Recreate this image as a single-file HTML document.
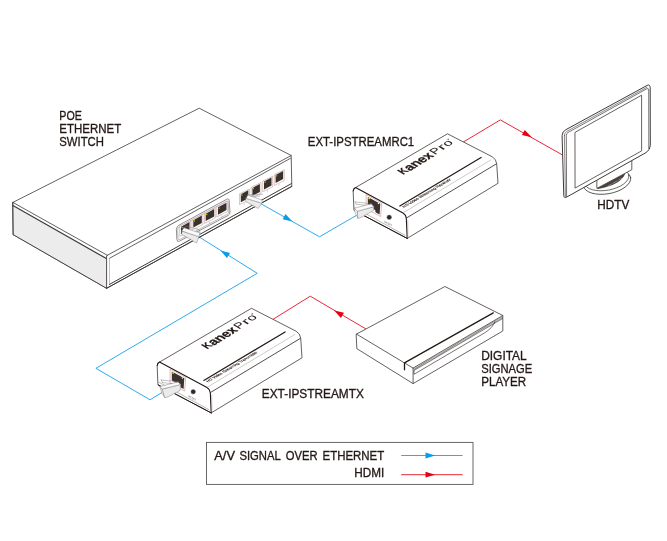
<!DOCTYPE html>
<html>
<head>
<meta charset="utf-8">
<title>KanexPro IP Stream connection diagram</title>
<style>
html,body{margin:0;padding:0;background:#fff;}
body{width:667px;height:541px;overflow:hidden;font-family:"Liberation Sans",sans-serif;}
svg{display:block;will-change:transform;}
</style>
</head>
<body>
<svg width="667" height="541" viewBox="0 0 667 541">
<rect x="0" y="0" width="667" height="541" fill="#ffffff"/>
<g fill="none" stroke-width="0.85" stroke-linejoin="miter">
<path d="M260,203.2 L319.5,236.8 L357.4,214.8" stroke="#0a9ce8"/>
<path d="M165.6,390.2 L150.1,399.8 L95.9,368.3 L257.2,273.3 L197,235.6" stroke="#0a9ce8"/>
<path d="M460,144 L500.3,119.9 L564,155.8" stroke="#e60012"/>
<path d="M366,329 L310.3,296.2 L270,321.2" stroke="#e60012"/>
</g>
<polygon points="292.4,221.4 282.6,219.3 285.5,214.1" fill="#0a9ce8"/>
<polygon points="220.4,250.4 230.1,253.0 226.9,258.0" fill="#0a9ce8"/>
<polygon points="531.7,137.2 521.9,135.1 524.8,129.9" fill="#e60012"/>
<polygon points="334.2,310.4 344.0,312.7 340.9,317.9" fill="#e60012"/>
<g id="switch" stroke-linejoin="round" stroke-linecap="round">
<polygon points="12.9,202.4 199.2,108.2 291.2,155.5 291.8,186.4 106.6,288.3 13.3,234.7" fill="#fff" stroke="#3e3a39" stroke-width="0.8"/>
<polygon points="13.1,205.8 106.4,258.6 106.6,288.3 13.3,234.7" fill="#ececec" stroke="none"/>
<line x1="12.9" y1="202.4" x2="107.3" y2="255.3" stroke="#3e3a39" stroke-width="0.8"/>
<line x1="12.9" y1="205.6" x2="105.9" y2="258.3" stroke="#3e3a39" stroke-width="1.2"/>
<line x1="107.3" y1="255.3" x2="291.2" y2="155.5" stroke="#3e3a39" stroke-width="0.8"/>
<line x1="109.5" y1="258.3" x2="290.5" y2="158.3" stroke="#3e3a39" stroke-width="0.8"/>
<line x1="106.6" y1="256.0" x2="106.6" y2="288.3" stroke="#3e3a39" stroke-width="0.9"/>
<line x1="109.5" y1="258.6" x2="109.5" y2="284.7" stroke="#9a9a9a" stroke-width="0.6"/>
<line x1="109.5" y1="284.4" x2="291.4" y2="183.6" stroke="#3e3a39" stroke-width="1.0"/>
<line x1="106.6" y1="288.3" x2="291.8" y2="186.4" stroke="#3e3a39" stroke-width="1.0"/>
<line x1="13.3" y1="234.7" x2="106.6" y2="288.3" stroke="#3e3a39" stroke-width="0.9"/>
<line x1="12.9" y1="202.4" x2="13.3" y2="234.7" stroke="#3e3a39" stroke-width="0.9"/>
<path d="M176.4,229.4 Q176.4,226.6 178.8,225.3 L226.6,199.3 Q229.1,198 229.2,200.8 L230,212 Q230.1,214.4 228,215.5 L179.4,241.2 Q177,242.4 176.9,240 Z" fill="#fff" stroke="#4a4645" stroke-width="0.6"/>
<path d="M177.7,229.9 Q177.7,227.7 179.5,226.7 L226.2,201.2 Q228,200.3 228.1,202 L228.8,211.6 Q228.9,213.4 227.3,214.3 L180,239.4 Q178.2,240.3 178.1,238.6 Z" fill="none" stroke="#5a5655" stroke-width="0.4"/>
<polygon points="180.1,226.0 190.6,220.7 190.6,230.9 180.1,236.2" fill="#fff" stroke="#bd9292" stroke-width="0.55"/><polygon points="181.0,226.7 189.5,222.0 189.5,229.4 181.0,234.0" fill="#38312e"/><circle cx="182.1" cy="227.4" r="0.65" fill="#e6cf00"/><line x1="184.8" y1="235.0" x2="184.8" y2="236.2" stroke="#999" stroke-width="0.4"/>
<polygon points="192.4,219.6 202.9,214.2 202.9,224.4 192.4,229.8" fill="#fff" stroke="#bd9292" stroke-width="0.55"/><polygon points="193.3,220.2 201.8,215.6 201.8,222.9 193.3,227.6" fill="#38312e"/><circle cx="194.4" cy="221.0" r="0.65" fill="#e6cf00"/><line x1="197.2" y1="228.6" x2="197.2" y2="229.8" stroke="#999" stroke-width="0.4"/>
<polygon points="204.8,213.1 215.3,207.8 215.3,218.0 204.8,223.3" fill="#fff" stroke="#bd9292" stroke-width="0.55"/><polygon points="205.7,213.8 214.2,209.1 214.2,216.5 205.7,221.1" fill="#38312e"/><circle cx="206.8" cy="214.5" r="0.65" fill="#e6cf00"/><line x1="209.5" y1="222.1" x2="209.5" y2="223.3" stroke="#999" stroke-width="0.4"/>
<polygon points="217.1,206.7 227.6,201.3 227.6,211.5 217.1,216.8" fill="#fff" stroke="#bd9292" stroke-width="0.55"/><polygon points="218.0,207.3 226.5,202.7 226.5,210.0 218.0,214.7" fill="#38312e"/><circle cx="219.1" cy="208.1" r="0.65" fill="#e6cf00"/><line x1="221.9" y1="215.7" x2="221.9" y2="216.9" stroke="#999" stroke-width="0.4"/>
<polygon points="239.9,193.6 249.4,189.0 249.4,199.8 239.9,204.4" fill="#fff" stroke="#bd9292" stroke-width="0.55"/><polygon points="240.8,194.3 248.3,190.3 248.3,198.3 240.8,202.2" fill="#38312e"/><circle cx="241.9" cy="195.0" r="0.65" fill="#e6cf00"/><line x1="244.2" y1="203.5" x2="244.2" y2="204.7" stroke="#999" stroke-width="0.4"/>
<polygon points="251.5,187.2 261.0,182.6 261.0,193.4 251.5,198.0" fill="#fff" stroke="#bd9292" stroke-width="0.55"/><polygon points="252.4,187.9 259.9,183.9 259.9,191.9 252.4,195.8" fill="#38312e"/><circle cx="253.5" cy="188.6" r="0.65" fill="#e6cf00"/><line x1="255.8" y1="197.1" x2="255.8" y2="198.3" stroke="#999" stroke-width="0.4"/>
<polygon points="263.1,180.8 272.6,176.2 272.6,187.0 263.1,191.6" fill="#fff" stroke="#bd9292" stroke-width="0.55"/><polygon points="264.0,181.5 271.5,177.5 271.5,185.5 264.0,189.4" fill="#38312e"/><circle cx="265.1" cy="182.2" r="0.65" fill="#e6cf00"/><line x1="267.4" y1="190.7" x2="267.4" y2="191.9" stroke="#999" stroke-width="0.4"/>
<polygon points="274.7,174.4 284.2,169.8 284.2,180.6 274.7,185.2" fill="#fff" stroke="#bd9292" stroke-width="0.55"/><polygon points="275.6,175.1 283.1,171.1 283.1,179.1 275.6,183.0" fill="#38312e"/><circle cx="276.7" cy="175.8" r="0.65" fill="#e6cf00"/><line x1="279.0" y1="184.3" x2="279.0" y2="185.5" stroke="#999" stroke-width="0.4"/>
<g stroke-linejoin="round" stroke-linecap="round"><polygon points="182.0,231.1 198.9,236.7 196.6,243.1 182.0,234.5" fill="#ebebeb" stroke="#858585" stroke-width="0.5"/><polygon points="183.9,227.7 200.0,233.0 198.9,236.7 182.0,231.1" fill="#fafafa" stroke="#858585" stroke-width="0.5"/><path d="M183.9,227.7 L186.2,226 L199.4,229.8 L200,233" fill="none" stroke="#858585" stroke-width="0.5"/></g>
<g stroke-linejoin="round" stroke-linecap="round"><polygon points="246.1,198.4 261.9,203.2 258.1,208.5 246.1,201.7" fill="#ebebeb" stroke="#858585" stroke-width="0.5"/><polygon points="248.0,195.0 262.2,200.2 261.9,203.2 246.1,198.4" fill="#fafafa" stroke="#858585" stroke-width="0.5"/><path d="M247.6,194.8 L262.6,194.3 M250.5,196 L260,196.2" fill="none" stroke="#858585" stroke-width="0.5"/></g>
</g>
<g id="rx" stroke-linejoin="round" stroke-linecap="round"><path d="M353.2,191 Q353.3,188.6 355.5,187.6 L447.5,133.8 L492.1,156.7 Q496.3,159 496.7,163.8 L498,183.3 L407.2,238.4 L354.3,210.5 Z" fill="#fff" stroke="#3e3a39" stroke-width="0.8"/><path d="M353.2,191 Q353.3,188.6 355.5,187.6 L403,213 Q406,214.8 406.3,218.1 L407.2,238.4" fill="none" stroke="#231815" stroke-width="1.1"/><line x1="406.3" y1="218.1" x2="496.5" y2="163.8" stroke="#3e3a39" stroke-width="0.9"/><line x1="403.5" y1="212.6" x2="490.8" y2="160.0" stroke="#9a9a9a" stroke-width="0.5"/><line x1="407.8" y1="220.5" x2="407.9" y2="237.6" stroke="#9a9a9a" stroke-width="0.5"/><line x1="399.8" y1="205.9" x2="481.1" y2="157.4" stroke="#231815" stroke-width="1.2"/><line x1="355.0" y1="207.8" x2="404.9" y2="235.2" stroke="#8a8a8a" stroke-width="0.6"/><line x1="354.3" y1="210.5" x2="407.2" y2="238.4" stroke="#231815" stroke-width="1.0"/><polygon points="366.4,194.7 381.7,203.0 380.6,216.5 366.4,209.0" fill="#fff" stroke="#b86a6a" stroke-width="0.45"/><polygon points="367.8,196.9 380.3,203.7 379.6,214.4 375.5,212.3 375.2,210.0 367.8,206.0" fill="#3a3330"/><circle cx="369.2" cy="198.4" r="0.9" fill="#f2e000"/><circle cx="378.4" cy="203.5" r="0.7" fill="#fff"/><circle cx="389.2" cy="217.3" r="2.3" fill="#2b2523" stroke="#777" stroke-width="0.5"/><text transform="matrix(0.88,0.47,0,1,384.6,222.6)" font-family="Liberation Sans, sans-serif" font-size="2.6" fill="#444" textLength="8.5" lengthAdjust="spacingAndGlyphs">RESET</text><g transform="matrix(0.848,-0.530,0.866,0.500,403.4,174.3)"><text x="-0.6" y="0.4" font-family="Liberation Sans, sans-serif" font-weight="bold" font-size="11.2" fill="#231815" stroke="#231815" stroke-width="0.22" textLength="6.8" lengthAdjust="spacingAndGlyphs">K</text><text x="6.6" y="1.1" font-family="Liberation Sans, sans-serif" font-weight="bold" font-size="13.2" fill="#231815" stroke="#231815" stroke-width="0.3" textLength="29" lengthAdjust="spacingAndGlyphs">anex</text><text x="36.9" y="0.3" font-family="Liberation Sans, sans-serif" font-size="11.4" fill="#231815" stroke="#231815" stroke-width="0.05" textLength="8.4" lengthAdjust="spacingAndGlyphs">P</text><text x="45.7" y="0.3" font-family="Liberation Sans, sans-serif" font-size="11.4" fill="#231815" stroke="#231815" stroke-width="0.05" textLength="5.6" lengthAdjust="spacingAndGlyphs">r</text><text x="51.7" y="0.3" font-family="Liberation Sans, sans-serif" font-size="11.4" fill="#231815" stroke="#231815" stroke-width="0.05" textLength="7.6" lengthAdjust="spacingAndGlyphs">o</text><circle cx="59.4" cy="-6.6" r="0.6" fill="none" stroke="#231815" stroke-width="0.3"/></g><text transform="matrix(0.859,-0.512,0.866,0.500,404.1,207.9)" font-family="Liberation Sans, sans-serif" font-size="3.9" fill="#231815" stroke="#231815" stroke-width="0.12" textLength="55" lengthAdjust="spacingAndGlyphs">HD Video Streaming Receiver</text></g>
<g id="tx" transform="translate(-196,174.5)" stroke-linejoin="round" stroke-linecap="round"><path d="M353.2,191 Q353.3,188.6 355.5,187.6 L447.5,133.8 L492.1,156.7 Q496.3,159 496.7,163.8 L498,183.3 L407.2,238.4 L354.3,210.5 Z" fill="#fff" stroke="#3e3a39" stroke-width="0.8"/><path d="M353.2,191 Q353.3,188.6 355.5,187.6 L403,213 Q406,214.8 406.3,218.1 L407.2,238.4" fill="none" stroke="#231815" stroke-width="1.1"/><line x1="406.3" y1="218.1" x2="496.5" y2="163.8" stroke="#3e3a39" stroke-width="0.9"/><line x1="403.5" y1="212.6" x2="490.8" y2="160.0" stroke="#9a9a9a" stroke-width="0.5"/><line x1="407.8" y1="220.5" x2="407.9" y2="237.6" stroke="#9a9a9a" stroke-width="0.5"/><line x1="399.8" y1="205.9" x2="481.1" y2="157.4" stroke="#231815" stroke-width="1.2"/><line x1="355.0" y1="207.8" x2="404.9" y2="235.2" stroke="#8a8a8a" stroke-width="0.6"/><line x1="354.3" y1="210.5" x2="407.2" y2="238.4" stroke="#231815" stroke-width="1.0"/><polygon points="366.4,194.7 381.7,203.0 380.6,216.5 366.4,209.0" fill="#fff" stroke="#b86a6a" stroke-width="0.45"/><polygon points="367.8,196.9 380.3,203.7 379.6,214.4 375.5,212.3 375.2,210.0 367.8,206.0" fill="#3a3330"/><circle cx="369.2" cy="198.4" r="0.9" fill="#f2e000"/><circle cx="378.4" cy="203.5" r="0.7" fill="#fff"/><circle cx="389.2" cy="217.3" r="2.3" fill="#2b2523" stroke="#777" stroke-width="0.5"/><text transform="matrix(0.88,0.47,0,1,384.6,222.6)" font-family="Liberation Sans, sans-serif" font-size="2.6" fill="#444" textLength="8.5" lengthAdjust="spacingAndGlyphs">RESET</text><g transform="matrix(0.848,-0.530,0.866,0.500,403.4,174.3)"><text x="-0.6" y="0.4" font-family="Liberation Sans, sans-serif" font-weight="bold" font-size="11.2" fill="#231815" stroke="#231815" stroke-width="0.22" textLength="6.8" lengthAdjust="spacingAndGlyphs">K</text><text x="6.6" y="1.1" font-family="Liberation Sans, sans-serif" font-weight="bold" font-size="13.2" fill="#231815" stroke="#231815" stroke-width="0.3" textLength="29" lengthAdjust="spacingAndGlyphs">anex</text><text x="36.9" y="0.3" font-family="Liberation Sans, sans-serif" font-size="11.4" fill="#231815" stroke="#231815" stroke-width="0.05" textLength="8.4" lengthAdjust="spacingAndGlyphs">P</text><text x="45.7" y="0.3" font-family="Liberation Sans, sans-serif" font-size="11.4" fill="#231815" stroke="#231815" stroke-width="0.05" textLength="5.6" lengthAdjust="spacingAndGlyphs">r</text><text x="51.7" y="0.3" font-family="Liberation Sans, sans-serif" font-size="11.4" fill="#231815" stroke="#231815" stroke-width="0.05" textLength="7.6" lengthAdjust="spacingAndGlyphs">o</text><circle cx="59.4" cy="-6.6" r="0.6" fill="none" stroke="#231815" stroke-width="0.3"/></g><text transform="matrix(0.859,-0.512,0.866,0.500,404.1,207.9)" font-family="Liberation Sans, sans-serif" font-size="3.9" fill="#231815" stroke="#231815" stroke-width="0.12" textLength="58" lengthAdjust="spacingAndGlyphs">HD Video Streaming Transmitter</text></g>
<g stroke-linejoin="round" stroke-linecap="round"><polygon points="354.7,208.2 357.7,211.2 358.1,218.4 356.2,215.0 354.4,210.5" fill="#f4f4f4" stroke="#858585" stroke-width="0.5"/><polygon points="357.7,211.2 373.9,206.7 373.5,210.5 361.5,217.2 358.1,218.4" fill="#ebebeb" stroke="#858585" stroke-width="0.5"/><polygon points="354.7,208.2 371.2,203.7 373.9,206.7 357.7,211.2" fill="#fafafa" stroke="#858585" stroke-width="0.5"/><path d="M355.1,201.9 L365.2,203 L370.5,204.5 M356.2,204.1 L364.9,205.2 M355.1,201.9 L356.2,204.1" fill="none" stroke="#858585" stroke-width="0.5"/></g>
<g stroke-linejoin="round" stroke-linecap="round"><polygon points="160.1,386.4 162.4,389.0 165.0,397.6 162.0,393.5 160.1,387.5" fill="#f4f4f4" stroke="#858585" stroke-width="0.5"/><polygon points="162.4,389.0 180.7,384.5 180.0,390.5 168.0,396.9 165.0,397.6" fill="#ebebeb" stroke="#858585" stroke-width="0.5"/><polygon points="160.1,386.4 178.1,381.9 180.7,384.5 162.4,389.0" fill="#fafafa" stroke="#858585" stroke-width="0.5"/><path d="M161.2,380 L171.7,381.1 L178.1,381.9 M162.4,382.6 L172.5,383.7 M161.2,380 L162.4,382.6" fill="none" stroke="#858585" stroke-width="0.5"/></g>
<g id="tv" stroke-linejoin="round" stroke-linecap="round">
<g transform="rotate(-10 607 181.5)">
<ellipse cx="607" cy="181.8" rx="24" ry="12" fill="#fff" stroke="#3e3a39" stroke-width="0.8"/>
<ellipse cx="607" cy="179.2" rx="22.6" ry="11" fill="#fff" stroke="#3e3a39" stroke-width="0.7"/>
</g>
<path d="M598,187.9 L625,173.2 Q622.6,180.4 612,184.8 Q604.5,187.8 598,188.6 Z" fill="#4a4340" stroke="#231815" stroke-width="0.6"/>
<path d="M602,186.6 L624,174.2" fill="none" stroke="#fff" stroke-width="0.9" stroke-dasharray="0.5 0.9" stroke-linecap="butt" transform="translate(1.2,2.2)"/>
<polygon points="597.2,176.0 631.8,156.0 631.8,169.7 597.2,188.2" fill="#fff" stroke="#3e3a39" stroke-width="0.8"/>
<path d="M562.1,135.1 Q562.2,131.6 566,129.6 L647.3,85.3 Q650,84 650.2,87.9 L650.3,145.4 Q650.2,150 646,152.6 L566.5,197.2 Q563.9,198.6 563.8,195.6 Z" fill="#fff" stroke="#3e3a39" stroke-width="1.0"/>
<path d="M564.4,135.6 Q564.5,132.8 566.8,131.4 L647,87.2" fill="none" stroke="#3e3a39" stroke-width="0.6"/>
<path d="M564.4,135.6 L565.4,196.6" fill="none" stroke="#3e3a39" stroke-width="0.6"/>
<path d="M566.6,196.6 L566.3,135.5 Q566.4,133.4 568,132.5 L646.6,88.9 Q648.6,87.9 648.7,90 L648.8,148.6" fill="none" stroke="#3e3a39" stroke-width="0.7"/>
<polygon points="575.3,132.2 641.6,95.2 641.6,150.9 575.4,187.9" fill="#fff" stroke="#3e3a39" stroke-width="0.8"/>
</g>
<g id="player" stroke-linejoin="round" stroke-linecap="round">
<polygon points="356.5,334.1 444.9,286.5 502.8,315.5 502.8,331.0 413.1,383.6 357.2,348.9" fill="#fff" stroke="#3e3a39" stroke-width="0.8"/>
<line x1="356.5" y1="334.1" x2="413.1" y2="368.1" stroke="#3e3a39" stroke-width="0.8"/>
<line x1="413.1" y1="368.1" x2="502.8" y2="315.5" stroke="#3e3a39" stroke-width="0.8"/>
<line x1="413.1" y1="368.1" x2="413.1" y2="383.6" stroke="#3e3a39" stroke-width="0.8"/>
<line x1="414.0" y1="369.2" x2="502.6" y2="317.1" stroke="#6a6462" stroke-width="1.8" stroke-dasharray="0.7 0.5" stroke-linecap="butt"/>
<line x1="414.0" y1="370.5" x2="502.6" y2="318.6" stroke="#3e3a39" stroke-width="0.6"/>
<path d="M414,370.7 L414,374.3 L484.7,332.8 Q492.5,328.2 495,321.6" fill="none" stroke="#3e3a39" stroke-width="0.7"/>
<path d="M404.5,369.8 L404.5,362.9 L493.3,312.9" fill="none" stroke="#231815" stroke-width="1.3"/>
</g>
<text x="59.3" y="119.8" font-family="Liberation Sans, sans-serif" font-size="11.9" fill="#231815" stroke="#231815" stroke-width="0.3" textLength="22.5" lengthAdjust="spacingAndGlyphs" text-anchor="start">POE</text>
<text x="59.3" y="132.7" font-family="Liberation Sans, sans-serif" font-size="11.9" fill="#231815" stroke="#231815" stroke-width="0.3" textLength="61.9" lengthAdjust="spacingAndGlyphs" text-anchor="start">ETHERNET</text>
<text x="59.3" y="145.7" font-family="Liberation Sans, sans-serif" font-size="11.9" fill="#231815" stroke="#231815" stroke-width="0.3" textLength="44.7" lengthAdjust="spacingAndGlyphs" text-anchor="start">SWITCH</text>
<text x="307.8" y="145.7" font-family="Liberation Sans, sans-serif" font-size="11.9" fill="#231815" stroke="#231815" stroke-width="0.3" textLength="106.4" lengthAdjust="spacingAndGlyphs" text-anchor="start">EXT-IPSTREAMRC1</text>
<text x="597.3" y="208.9" font-family="Liberation Sans, sans-serif" font-size="11.9" fill="#231815" stroke="#231815" stroke-width="0.3" textLength="32" lengthAdjust="spacingAndGlyphs" text-anchor="start">HDTV</text>
<text x="261.8" y="398" font-family="Liberation Sans, sans-serif" font-size="11.9" fill="#231815" stroke="#231815" stroke-width="0.3" textLength="102.1" lengthAdjust="spacingAndGlyphs" text-anchor="start">EXT-IPSTREAMTX</text>
<text x="481.2" y="359.8" font-family="Liberation Sans, sans-serif" font-size="11.9" fill="#231815" stroke="#231815" stroke-width="0.3" textLength="45.5" lengthAdjust="spacingAndGlyphs" text-anchor="start">DIGITAL</text>
<text x="481.2" y="372.7" font-family="Liberation Sans, sans-serif" font-size="11.9" fill="#231815" stroke="#231815" stroke-width="0.3" textLength="51" lengthAdjust="spacingAndGlyphs" text-anchor="start">SIGNAGE</text>
<text x="481.2" y="385.7" font-family="Liberation Sans, sans-serif" font-size="11.9" fill="#231815" stroke="#231815" stroke-width="0.3" textLength="45" lengthAdjust="spacingAndGlyphs" text-anchor="start">PLAYER</text>
<rect x="206.5" y="442.4" width="266.5" height="42" fill="#fff" stroke="#595757" stroke-width="0.9"/>
<text x="214.3" y="459.8" font-family="Liberation Sans, sans-serif" font-size="11.9" fill="#231815" stroke="#231815" stroke-width="0.3" textLength="20.7" lengthAdjust="spacingAndGlyphs" text-anchor="start">A/V</text>
<text x="239.4" y="459.8" font-family="Liberation Sans, sans-serif" font-size="11.9" fill="#231815" stroke="#231815" stroke-width="0.3" textLength="41.4" lengthAdjust="spacingAndGlyphs" text-anchor="start">SIGNAL</text>
<text x="285.8" y="459.8" font-family="Liberation Sans, sans-serif" font-size="11.9" fill="#231815" stroke="#231815" stroke-width="0.3" textLength="31.8" lengthAdjust="spacingAndGlyphs" text-anchor="start">OVER</text>
<text x="322.5" y="459.8" font-family="Liberation Sans, sans-serif" font-size="11.9" fill="#231815" stroke="#231815" stroke-width="0.3" textLength="61.7" lengthAdjust="spacingAndGlyphs" text-anchor="start">ETHERNET</text>
<text x="354.3" y="477.2" font-family="Liberation Sans, sans-serif" font-size="11.9" fill="#231815" stroke="#231815" stroke-width="0.3" textLength="30" lengthAdjust="spacingAndGlyphs" text-anchor="start">HDMI</text>
<line x1="401.2" y1="455.5" x2="462.6" y2="455.5" stroke="#0a9ce8" stroke-width="0.85"/>
<line x1="401.2" y1="474.7" x2="462.6" y2="474.7" stroke="#e60012" stroke-width="0.85"/>
<polygon points="435.1,455.5 425.5,458.4 425.5,452.6" fill="#0a9ce8"/>
<polygon points="435.1,474.7 425.5,477.6 425.5,471.8" fill="#e60012"/>
</svg>
</body>
</html>
